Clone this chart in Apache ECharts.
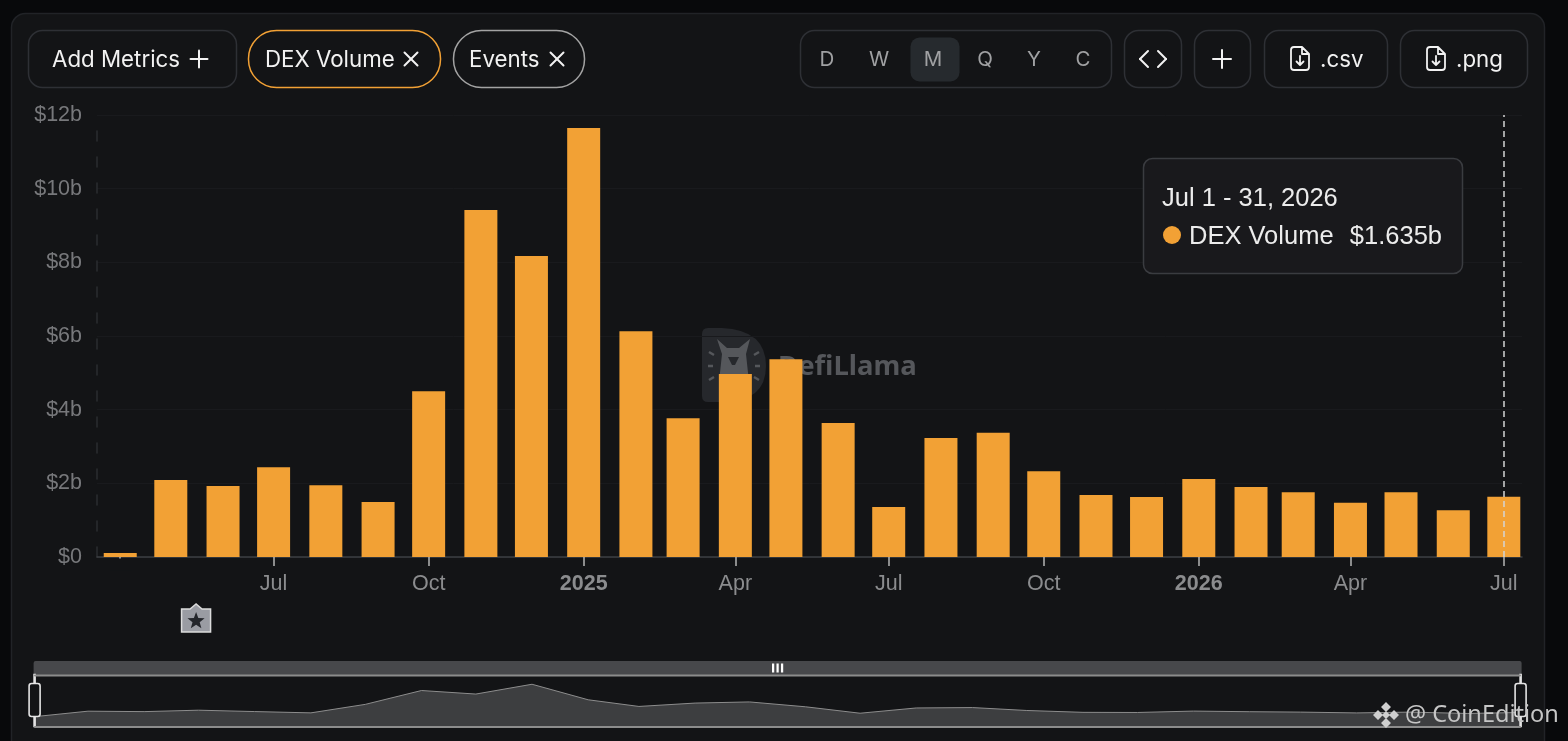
<!DOCTYPE html>
<html>
<head>
<meta charset="utf-8">
<style>html,body{margin:0;padding:0;background:#08090b;overflow:hidden}#c{width:1568px;height:741px}</style>
<script src="https://cdn.jsdelivr.net/npm/echarts@6/dist/echarts.min.js"></script>
</head>
<body>
<div id="c"></div>
<script>
const months = ['2024-04-01','2024-05-01','2024-06-01','2024-07-01','2024-08-01','2024-09-01','2024-10-01','2024-11-01','2024-12-01','2025-01-01','2025-02-01','2025-03-01','2025-04-01','2025-05-01','2025-06-01','2025-07-01','2025-08-01','2025-09-01','2025-10-01','2025-11-01','2025-12-01','2026-01-01','2026-02-01','2026-03-01','2026-04-01','2026-05-01','2026-06-01','2026-07-01'];
const dexVolume = [0.11,2.09,1.93,2.44,1.95,1.49,4.5,9.42,8.17,11.65,6.13,3.77,4.97,5.37,3.64,1.36,3.23,3.37,2.33,1.68,1.63,2.12,1.9,1.76,1.47,1.76,1.27,1.635];
const eventDates = ['2024-05-16'];
const axisStart = '2024-03-28';
const axisEnd = '2026-07-02';
const firstLabelled = '2024-07-01';
const hoverDate = '2026-07-01';
const tooltipTitle = 'Jul 1 - 31, 2026';
const tooltipValue = '$1.635b';
const frequencies = ['D','W','M','Q','Y','C'];

const FONT = 'Inter, "Liberation Sans", sans-serif';
const AXISFONT = '"Liberation Sans", sans-serif';
const ORANGE = '#f2a135';
const PANEL = '#131416';
const ts = s => new Date(+s.slice(0,4), +s.slice(5,7)-1, +s.slice(8,10)).getTime();
const MON = ['Jan','Feb','Mar','Apr','May','Jun','Jul','Aug','Sep','Oct','Nov','Dec'];

let pathCount = 0;
function pathEl(d,style,z){
  const name='svgp'+(pathCount++);
  echarts.graphic.registerShape(name, echarts.graphic.extendPath(d,{}));
  return {type:name,silent:true,z:z,style};
}
function box(x,y,w,h,r,stroke,fill,lw){return {type:'rect',silent:true,z:50,shape:{x:x+.5,y:y+.5,width:w,height:h,r},style:{fill:fill||'transparent',stroke:stroke||'transparent',lineWidth:lw||1.5}};}
function txt(x,y,t,size,color,extra){return {type:'text',silent:true,z:51,x,y,style:Object.assign({text:t,fill:color||'#f2f2f2',font:(size||22)+'px '+FONT,textAlign:'left',textVerticalAlign:'middle'},extra||{})};}
function seg(x1,y1,x2,y2,c,lw){return {type:'line',silent:true,z:51,shape:{x1,y1,x2,y2},style:{stroke:c||'#f2f2f2',lineWidth:lw||2,lineCap:'round'}};}
function plus(cx,cy,r){return [seg(cx-r,cy,cx+r,cy),seg(cx,cy-r,cx,cy+r)];}
function cross(cx,cy,r){return [seg(cx-r,cy-r,cx+r,cy+r),seg(cx-r,cy+r,cx+r,cy-r)];}
function fileIcon(x,y){return pathEl(`M${x+3} ${y}H${x+11}L${x+18} ${y+7}V${y+20}Q${x+18} ${y+23} ${x+15} ${y+23}H${x+3}Q${x} ${y+23} ${x} ${y+20}V${y+3}Q${x} ${y} ${x+3} ${y}ZM${x+11} ${y}V${y+7}H${x+18}M${x+9} ${y+9}V${y+18}M${x+5.5} ${y+14.5}L${x+9} ${y+18}L${x+12.5} ${y+14.5}`,{fill:'none',stroke:'#f2f2f2',lineWidth:1.8,lineJoin:'round',lineCap:'round'},51);}

const TIP = '25.5px "Liberation Sans", sans-serif';
const ui = [
  {type:'rect',silent:true,z:-10,shape:{x:11.5,y:13.5,width:1533,height:760,r:14},style:{fill:PANEL,stroke:'#212327',lineWidth:1.5}},
  box(28,30,208,57,14,'#2e3035'),
  txt(52,60,'Add Metrics',22.3), ...plus(199,59,8.5),
  box(248,30,192,57,28,ORANGE),
  txt(265,60,'DEX Volume',22.3), ...cross(411,59,6.5),
  box(453,30,131,57,28,'#a3a3a3'),
  txt(469,60,'Events',22.3), ...cross(557,59,6.5),
  box(800,30,311,57,14,'#2e3035'),
  box(910,37,49,44,9,null,'#262a2e'),
  box(1124,30,57,57,14,'#2e3035'),
  seg(1148,51,1140,59),seg(1140,59,1148,67),seg(1158,51,1166,59),seg(1166,59,1158,67),
  box(1194,30,56,57,14,'#2e3035'), ...plus(1222,59,9),
  box(1264,30,123,57,14,'#2e3035'), fileIcon(1291,47), txt(1320,60,'.csv',22.3),
  box(1400,30,127,57,14,'#2e3035'), fileIcon(1427,47), txt(1456,60,'.png',22.3),
  // DefiLlama watermark behind the bars
  pathEl('M702 334Q702 328 708 328H722Q766 330 766 366Q766 402 722 402H708Q702 402 702 396Z',{fill:'#26282c'},-1),
  pathEl('M717 339L727 348H739L750 339L746 354L749 382H719L722 354Z',{fill:'#55575b'},-1),
  pathEl('M728 357H739L735 365H732Z',{fill:'#26282c'},-1),
  pathEl('M709 352L714 355M708 366H713M709 380L714 377M754 355L759 352M755 366H760M754 377L759 380',{fill:'none',stroke:'#55575b',lineWidth:2.5},-1),
  {type:'text',silent:true,z:-1,x:778,y:367,style:{text:'DefiLlama',fill:'#55575b',font:'bold 27.5px "Noto Sans", sans-serif',textAlign:'left',textVerticalAlign:'middle'}},
  // tooltip
  box(1143,158,319,115,9,'#3a3c40','#19191c'),
  txt(1162,198.5,tooltipTitle,25.5,'#ececec',{font:TIP}),
  {type:'circle',silent:true,z:51,shape:{cx:1172,cy:235,r:9},style:{fill:ORANGE}},
  txt(1189,237,'DEX Volume',25.5,'#ececec',{font:TIP}),
  txt(1442,237,tooltipValue,25.5,'#ececec',{textAlign:'right',font:TIP}),
  // cover for the tick of the unlabelled first quarter
  {type:'rect',silent:true,z:40,shape:{x:110,y:558.5,width:22,height:12},style:{fill:PANEL}},
  // slider rails
  seg(35,675.5,1520,675.5,'#8c8c8c',2),
  seg(35,727,1520,727,'#8c8c8c',2),
  // source credit
  pathEl('M1386 702L1391 707L1386 712L1381 707ZM1386 718L1391 723L1386 728L1381 723ZM1378 710L1383 715L1378 720L1373 715ZM1394 710L1399 715L1394 720L1389 715ZM1386 711L1390 715L1386 719L1382 715Z',{fill:'#cfcfcf'},60),
  {type:'text',silent:true,z:60,x:1405,y:715,style:{text:'@ CoinEdition',fill:'#c6c6c6',font:'23.5px "Noto Sans", sans-serif',textAlign:'left',textVerticalAlign:'middle'}},
];
frequencies.forEach((f,i)=>{
  const cx=[827,879,933,985,1034,1083][i];
  ui.push(txt(cx,60,f,20.5,'#a0a1a3',{textAlign:'center'}));
});

const chart = echarts.init(document.getElementById('c'),null,{renderer:'canvas'});
chart.setOption({
  backgroundColor:'#08090b',
  animation:false,
  textStyle:{fontFamily:AXISFONT},
  grid:{left:97,right:46,top:115,bottom:184,containLabel:false},
  xAxis:{
    type:'time', min:ts(axisStart), max:ts(axisEnd), splitNumber:9,
    axisLine:{show:true,lineStyle:{color:'#3d3f43',width:1.5}},
    axisTick:{show:true,length:9,lineStyle:{color:'#b5b5b5',width:1.5}},
    splitLine:{show:false},
    axisLabel:{
      color:'#8b8c8e',fontSize:21.5,margin:16,hideOverlap:false,showMinLabel:false,showMaxLabel:false,fontFamily:AXISFONT,
      formatter:v=>{
        if(v<ts(firstLabelled)) return '';
        const d=new Date(v);
        return d.getMonth()===0?'{y|'+d.getFullYear()+'}':MON[d.getMonth()];
      },
      rich:{y:{fontWeight:'bold',fontSize:21.5,color:'#8b8c8e',fontFamily:AXISFONT}}
    }
  },
  yAxis:{
    type:'value',min:0,max:12,interval:2,
    axisLine:{show:true,lineStyle:{color:'#2b2d31',type:[10,16],width:1.5}},
    axisTick:{show:false},
    splitLine:{lineStyle:{color:'#191a1d',width:1}},
    axisLabel:{color:'#77787b',fontSize:21.5,margin:15,fontFamily:AXISFONT,padding:[3,0,0,0],formatter:v=>v===0?'$0':'$'+v+'b'}
  },
  dataZoom:[{
    type:'slider',xAxisIndex:0,start:0,end:100,left:28,right:52,top:661,height:52,
    showDetail:false,brushSelect:true,
    backgroundColor:'transparent',borderColor:'transparent',borderRadius:0,
    fillerColor:'transparent',
    handleIcon:'path://M50,0H60V100H85Q110,100 110,125V405Q110,430 85,430H60V520H50V430H25Q0,430 0,405V125Q0,100 25,100H50Z',
    handleSize:52,
    handleStyle:{color:PANEL,borderColor:'#e4e4e4',borderWidth:1.6},
    moveHandleSize:14,
    moveHandleStyle:{color:'#47484b',opacity:1},
    moveHandleIcon:'path://M0,0H20V80H0ZM40,0H60V80H40ZM80,0H100V80H80Z',
    dataBackground:{lineStyle:{color:'#8d8d8d',width:1,opacity:1},areaStyle:{color:'#3d3e40',opacity:1}},
    selectedDataBackground:{lineStyle:{color:'#8d8d8d',width:1,opacity:1},areaStyle:{color:'#3d3e40',opacity:1}},
    emphasis:{handleStyle:{color:PANEL,borderColor:'#e4e4e4'},moveHandleStyle:{color:'#47484b'}}
  }],
  series:[{
    type:'bar',name:'DEX Volume',barWidth:33,
    data:months.map((m,i)=>[ts(m),dexVolume[i]]),
    itemStyle:{color:ORANGE},
    markLine:{
      silent:true,symbol:'none',animation:false,label:{show:false},
      lineStyle:{color:'#d4d4d4',type:[6,4],width:1.5},
      data:[{xAxis:ts(hoverDate)}]
    }
  }],
  graphic:{elements:ui}
});

const star = (cx,cy,r)=>{let p='';for(let i=0;i<10;i++){const a=-Math.PI/2+i*Math.PI/5,q=i%2?r*.42:r;p+=(i?'L':'M')+(cx+q*Math.cos(a)).toFixed(1)+' '+(cy+q*Math.sin(a)).toFixed(1);}return p+'Z';};
const evt=[];
eventDates.forEach(d=>{
  const ex=chart.convertToPixel({xAxisIndex:0},ts(d));
  evt.push(pathEl(`M${ex-14.5} 632V609H${ex-6}L${ex} 604L${ex+6} 609H${ex+14.5}V632Z`,{fill:'#9a9ca3',stroke:'#dcdcdc',lineWidth:1.5},52));
  evt.push(pathEl(star(ex,621,9),{fill:'#24262b'},53));
});
chart.setOption({graphic:{elements:evt.map((e,i)=>Object.assign(e,{id:'evt'+i}))}});
</script>
</body>
</html>
